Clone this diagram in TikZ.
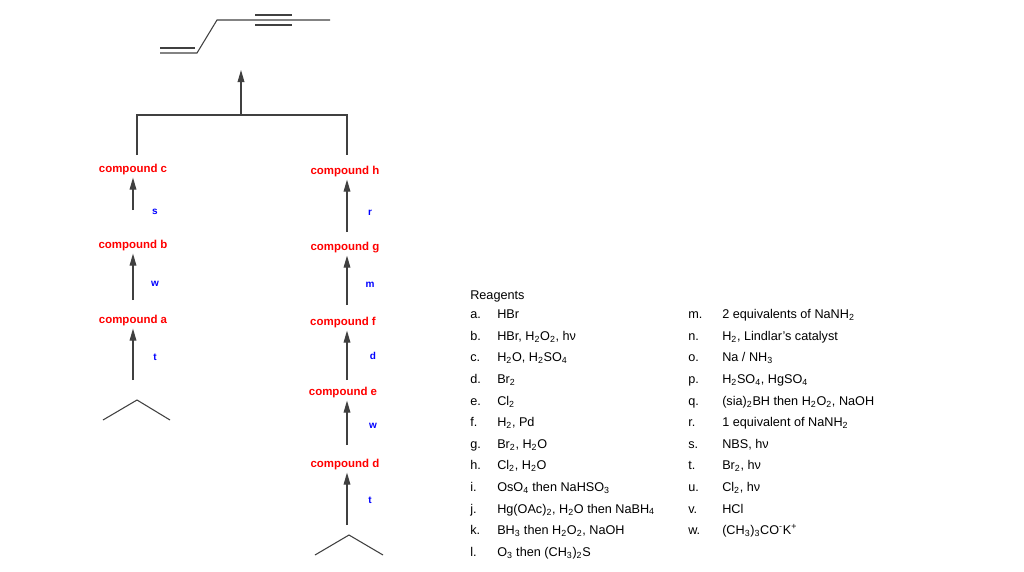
\documentclass[tikz,border=0pt]{standalone}
\usepackage{fontspec}
\setmainfont{Liberation Sans}
\usetikzlibrary{arrows.meta}
\newcommand\sbs[1]{\textsubscript{#1}}
\newcommand\sps[1]{\textsuperscript{#1}}
\begin{document}
\begin{tikzpicture}[x=0.75pt,y=-0.75pt,
  bond/.style={draw=black!75,line width=0.8pt},
  rxn/.style={draw=black!75,line width=0.9pt,-{Triangle[length=9pt,width=5pt]}},
  cmp/.style={text=red,font=\bfseries\fontsize{8.6}{10}\selectfont,inner sep=1.5pt},
  rg/.style={text=blue,font=\bfseries\fontsize{7.5}{9}\selectfont,inner sep=1pt},
  lt/.style={anchor=base west,font=\fontsize{9.5}{11}\selectfont,inner sep=0pt}]
\useasboundingbox (0,0) rectangle (1024,571);
% target molecule
\draw[bond] (160,48)--(195,48);
\draw[bond] (160,53)--(197,53)--(217,20)--(330,20);
\draw[bond] (255,15)--(292,15) (255,25)--(292,25);
\coordinate (top) at (241,70);
\coordinate (br) at (241,115);
\draw[rxn] (br)--(top);
\coordinate (bl) at (137,155); \coordinate (brr) at (347,155);
\draw[bond] (bl)--(137,115)--(347,115)--(brr);
% left column
\node[cmp] (c) at (133,170) {compound c};
\node[cmp] (b) at (133,246) {compound b};
\node[cmp] (a) at (133,321) {compound a};
\coordinate (p1) at (137,400);
\draw[rxn] (133,210)--(c);
\draw[rxn] (133,300)--(b);
\draw[rxn] (133,380)--(a);
\node[rg] at (155,212) {s};
\node[rg] at (155,284) {w};
\node[rg] at (155,357) {t};
\draw[bond] (103,420)--(p1)--(170,420);
% right column
\node[cmp] (h) at (345,172) {compound h};
\node[cmp] (g) at (345,248) {compound g};
\node[cmp] (f) at (343,323) {compound f};
\node[cmp] (e) at (343,393) {compound e};
\node[cmp] (d) at (345,465) {compound d};
\draw[rxn] (347,232)--(347,232 |- h.south);
\draw[rxn] (347,305)--(347,305 |- g.south);
\draw[rxn] (347,380)--(347,380 |- f.south);
\draw[rxn] (347,445)--(347,445 |- e.south);
\draw[rxn] (347,525)--(347,525 |- d.south);
\node[rg] at (370,213) {r};
\node[rg] at (370,285) {m};
\node[rg] at (373,356) {d};
\node[rg] at (373,426) {w};
\node[rg] at (370,500) {t};
\coordinate (p2) at (349,535);
\draw[bond] (315,555)--(p2)--(383,555);
% reagents
\node[lt] at (470,299) {Reagents};
\foreach \l/\t [count=\i] in {a./HBr, b./{HBr, H\sbs{2}O\sbs{2}, hν}, c./{H\sbs{2}O, H\sbs{2}SO\sbs{4}}, d./Br\sbs{2}, e./Cl\sbs{2}, f./{H\sbs{2}, Pd}, g./{Br\sbs{2}, H\sbs{2}O}, h./{Cl\sbs{2}, H\sbs{2}O}, i./{OsO\sbs{4} then NaHSO\sbs{3}}, j./{Hg(OAc)\sbs{2}, H\sbs{2}O then NaBH\sbs{4}}, k./{BH\sbs{3} then H\sbs{2}O\sbs{2}, NaOH}, l./{O\sbs{3} then (CH\sbs{3})\sbs{2}S}}{
  \node[lt] at (470,{297+21.6*\i}) {\l};
  \node[lt] at (497,{297+21.6*\i}) {\t};
}
\foreach \l/\t [count=\i] in {m./{2 equivalents of NaNH\sbs{2}}, n./{H\sbs{2}, Lindlar's catalyst}, o./{Na / NH\sbs{3}}, p./{H\sbs{2}SO\sbs{4}, HgSO\sbs{4}}, q./{(sia)\sbs{2}BH then H\sbs{2}O\sbs{2}, NaOH}, r./{1 equivalent of NaNH\sbs{2}}, s./{NBS, hν}, t./{Br\sbs{2}, hν}, u./{Cl\sbs{2}, hν}, v./HCl, w./{(CH\sbs{3})\sbs{3}CO\sps{-}K\sps{+}}}{
  \node[lt] at (688,{297+21.6*\i}) {\l};
  \node[lt] at (722,{297+21.6*\i}) {\t};
}
\end{tikzpicture}
\end{document}
